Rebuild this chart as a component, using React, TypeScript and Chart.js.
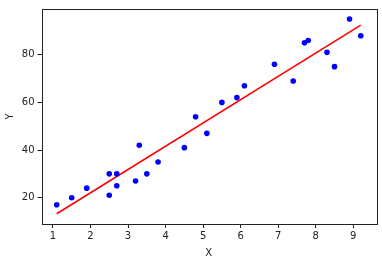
import React, { useEffect, useRef } from "react";
import { Chart, registerables } from "chart.js";

Chart.register(...registerables);

const hours = [2.5, 5.1, 3.2, 8.5, 3.5, 1.5, 9.2, 5.5, 8.3, 2.7, 7.7, 5.9, 4.5, 3.3, 1.1, 8.9, 2.5, 1.9, 6.1, 7.4, 2.7, 4.8, 3.8, 6.9, 7.8];
const scores = [21, 47, 27, 75, 30, 20, 88, 60, 81, 25, 85, 62, 41, 42, 17, 95, 30, 24, 67, 69, 30, 54, 35, 76, 86];
const fitX = [1.1, 9.2];
const fitY = [13.24, 92.42];
const xTicks = [1, 2, 3, 4, 5, 6, 7, 8, 9];
const yTicks = [20, 40, 60, 80];

const framePlugin = {
  id: "frame",
  afterDraw(chart: any) {
    const { ctx, chartArea } = chart;
    ctx.save();
    ctx.strokeStyle = "#222";
    ctx.lineWidth = 1;
    ctx.strokeRect(
      Math.round(chartArea.left) + 0.5,
      Math.round(chartArea.top) + 0.5,
      Math.round(chartArea.right - chartArea.left),
      Math.round(chartArea.bottom - chartArea.top)
    );
    ctx.restore();
  },
};

export default function App() {
  const ref = useRef<HTMLCanvasElement>(null);
  useEffect(() => {
    const font = { family: "DejaVu Sans", size: 10 };
    const chart = new Chart(ref.current!, {
      type: "scatter",
      data: {
        datasets: [
          {
            type: "line",
            data: fitX.map((x, i) => ({ x, y: fitY[i] })),
            borderColor: "#ff0000",
            borderWidth: 1.6,
            pointRadius: 0,
            fill: false,
            order: 1,
          } as any,
          {
            data: hours.map((x, i) => ({ x, y: scores[i] })),
            backgroundColor: "#0000ff",
            borderColor: "#0000ff",
            pointRadius: 2.8,
            borderWidth: 0,
            order: 0,
          },
        ],
      },
      options: {
        animation: false,
        responsive: false,
        events: [],
        layout: { padding: { left: 0, top: 6, right: 6, bottom: 3 } },
        plugins: { legend: { display: false }, tooltip: { enabled: false } },
        scales: {
          x: {
            type: "linear",
            min: 0.695,
            max: 9.605,
            afterBuildTicks: (s: any) => {
              s.ticks = xTicks.map((v) => ({ value: v }));
            },
            afterFit: (s: any) => {
              s.height = 35;
            },
            grid: { display: true, drawOnChartArea: false, drawTicks: true, tickLength: 4, color: "#222" },
            border: { display: false },
            ticks: { color: "#222", font, padding: 2, autoSkip: false, maxRotation: 0, callback: (v: any) => String(v) },
            title: { display: true, text: "X", color: "#222", font, padding: { top: 0, bottom: 0 } },
          },
          y: {
            type: "linear",
            min: 8.95,
            max: 99.2,
            afterBuildTicks: (s: any) => {
              s.ticks = yTicks.map((v) => ({ value: v }));
            },
            afterFit: (s: any) => {
              s.width = 41.5;
            },
            grid: { display: true, drawOnChartArea: false, drawTicks: true, tickLength: 4, color: "#222" },
            border: { display: false },
            ticks: { color: "#222", font, padding: 3, callback: (v: any) => String(v) },
            title: { display: true, text: "Y", color: "#222", font, padding: { top: 4, bottom: 0 } },
          },
        },
      },
      plugins: [framePlugin],
    });
    return () => chart.destroy();
  }, []);
  return (
    <div style={{ position: "fixed", left: 0, top: 0, width: 382, height: 262, background: "#fff" }}>
      <canvas ref={ref} width={382} height={262} style={{ width: 382, height: 262, display: "block" }} />
    </div>
  );
}
